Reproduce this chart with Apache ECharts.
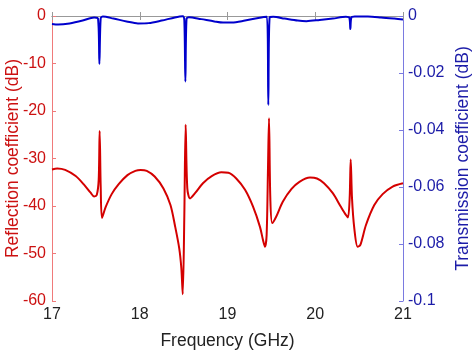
<!DOCTYPE html>
<html>
<head>
<meta charset="utf-8">
<script src="https://cdn.jsdelivr.net/npm/echarts@6/dist/echarts.min.js"></script>
<style>
  html, body { margin: 0; padding: 0; background: #fff; }
  #chart { width: 474px; height: 352px; }
</style>
</head>
<body>
<div id="chart"></div>
<script>
// reflection (left axis, dB)
var reflFreq = [17.00, 17.06, 17.15, 17.27, 17.36, 17.44, 17.48, 17.51, 17.532, 17.543, 17.555, 17.57,
  17.61, 17.68, 17.76, 17.86, 17.95, 18.01, 18.08, 18.17, 18.27, 18.35, 18.40, 18.45, 18.474, 18.49,
  18.508, 18.523, 18.542, 18.573, 18.63, 18.72, 18.82, 18.93, 19.01, 19.10, 19.20, 19.29, 19.37,
  19.405, 19.427, 19.446, 19.462, 19.473, 19.488, 19.51, 19.556, 19.63, 19.73, 19.82, 19.94, 20.02,
  20.10, 20.20, 20.29, 20.35, 20.373, 20.392, 20.404, 20.419, 20.445, 20.483, 20.514, 20.578, 20.673,
  20.768, 20.882, 21.00];
var reflDb = [-32.3, -32.1, -32.4, -33.7, -35.4, -37.2, -38.0, -37.7, -34.5, -24.2, -35.9, -42.5,
  -40.3, -37.5, -35.4, -33.5, -32.6, -32.4, -32.6, -33.8, -36.3, -39.8, -44.0, -48.9, -53.1, -58.6,
  -41.9, -22.9, -36.3, -38.4, -37.3, -35.2, -33.7, -32.9, -33.0, -34.2, -36.6, -40.1, -44.4,
  -47.2, -48.6, -46.1, -31.4, -21.5, -38.4, -43.6, -42.2, -39.1, -36.4, -34.9, -34.0, -34.2,
  -35.2, -37.3, -40.1, -41.9, -42.4, -38.4, -30.2, -38.4, -44.7, -48.6, -48.2, -44.0, -39.8,
  -37.5, -35.9, -35.2];

// transmission (right axis, dB)
var transFreq = [17.00, 17.07, 17.20, 17.35, 17.48, 17.525, 17.54, 17.555, 17.58, 17.70, 17.85, 17.98,
  18.10, 18.25, 18.40, 18.49, 18.508, 18.52, 18.533, 18.56, 18.70, 18.85, 18.95, 19.05, 19.20, 19.35,
  19.45, 19.465, 19.48, 19.52, 19.65, 19.80, 19.90, 20.05, 20.20, 20.35, 20.388, 20.40, 20.412, 20.45,
  20.60, 20.75, 20.90, 21.00];
var transDb = [-0.0028, -0.0030, -0.0026, -0.0016, -0.0005, -0.0010, -0.0168, -0.0008, -0.0002, -0.0009,
  -0.0019, -0.0026, -0.0025, -0.0016, -0.0005, -0.0001, -0.0015, -0.0230, -0.0010, -0.0004, -0.0011,
  -0.0019, -0.0023, -0.0023, -0.0016, -0.0007, -0.0003, -0.0312, -0.0005, -0.0003, -0.0009, -0.0016,
  -0.0018, -0.0014, -0.0009, -0.0003, -0.0006, -0.0046, -0.0005, -0.0002, -0.0002, -0.0005, -0.0009,
  -0.0012];

var xTicks = [17, 18, 19, 20, 21];

var FONT = '"Liberation Sans", Arial, sans-serif';
var RED = '#cc1111';
var BLUE = '#1c1ca8';

function zip(a, b) {
  var out = [];
  for (var i = 0; i < a.length; i++) out.push([a[i], b[i]]);
  return out;
}

var myChart = echarts.init(document.getElementById('chart'), null, { renderer: 'canvas' });

myChart.setOption({
  animation: false,
  backgroundColor: '#fff',
  grid: { left: 52, right: 71, top: 16, bottom: 51, containLabel: false, outerBoundsMode: 'none' },
  xAxis: [
    {
      type: 'value', min: xTicks[0], max: xTicks[xTicks.length - 1], interval: 1,
      name: 'Frequency (GHz)', nameLocation: 'middle', nameGap: 31, nameMoveOverlap: false,
      nameTextStyle: { color: '#222', fontSize: 17.5, fontFamily: FONT },
      axisLine: { lineStyle: { color: '#999', width: 1 } },
      axisTick: { inside: true, length: 4, lineStyle: { color: '#999' } },
      axisLabel: { color: '#222', fontSize: 16, fontFamily: FONT, margin: 6 },
      splitLine: { show: false }
    },
    {
      // top frame
      type: 'value', position: 'top', min: 17, max: 21, interval: 1,
      axisLine: { show: true, onZero: false, lineStyle: { color: '#999', width: 1 } },
      axisTick: { inside: true, length: 4, lineStyle: { color: '#999' } },
      axisLabel: { show: false },
      splitLine: { show: false }
    }
  ],
  yAxis: [
    {
      type: 'value', min: -60, max: 0, interval: 10, position: 'left',
      name: 'Reflection coefficient (dB)', nameLocation: 'middle', nameGap: 30, nameMoveOverlap: false,
      nameTextStyle: { color: RED, fontSize: 17.5, fontFamily: FONT },
      axisLine: { show: true, onZero: false, lineStyle: { color: '#f07a7a', width: 1 } },
      axisTick: { show: true, inside: true, length: 4, lineStyle: { color: '#f07a7a' } },
      axisLabel: { color: RED, fontSize: 16, fontFamily: FONT, margin: 6 },
      splitLine: { show: false }
    },
    {
      type: 'value', min: -0.1, max: 0, interval: 0.02, position: 'right',
      name: 'Transmission coefficient (dB)', nameLocation: 'middle', nameGap: 51, nameMoveOverlap: false,
      nameTextStyle: { color: BLUE, fontSize: 17.5, fontFamily: FONT },
      axisLine: { show: true, onZero: false, lineStyle: { color: '#7a7ae0', width: 1 } },
      axisTick: { show: true, inside: true, length: 4, lineStyle: { color: '#7a7ae0' } },
      axisLabel: {
        color: BLUE, fontSize: 16, fontFamily: FONT, margin: 5,
        formatter: function (v) { return String(+v.toFixed(2)); }
      },
      splitLine: { show: false }
    }
  ],
  series: [
    {
      name: 'Reflection', type: 'line', xAxisIndex: 0, yAxisIndex: 0,
      data: zip(reflFreq, reflDb), showSymbol: false, smooth: 0.3,
      lineStyle: { color: '#d40000', width: 2 }
    },
    {
      name: 'Transmission', type: 'line', xAxisIndex: 0, yAxisIndex: 1,
      data: zip(transFreq, transDb), showSymbol: false, smooth: 0.3,
      lineStyle: { color: '#0000cc', width: 2 }
    }
  ]
});
</script>
</body>
</html>
